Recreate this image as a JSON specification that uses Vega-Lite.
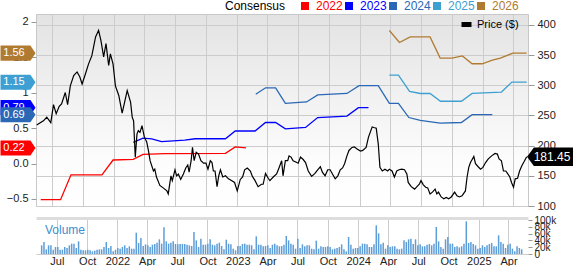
{
"$schema": "https://vega.github.io/schema/vega-lite/v6.json",
"padding": 0,
"background": "white",
"config": {
 "font": "Liberation Sans",
 "axis": {"labelFont": "Liberation Sans", "labelFontSize": 11, "labelColor": "#222222", "tickColor": "#999999", "gridColor": "#cccccc", "domainColor": "#c8c8c8", "title": null, "labelOverlap": false},
 "legend": {"labelFont": "Liberation Sans", "titleFont": "Liberation Sans"}
},
"datasets": {
 "eps": [
  {"d":"2021-05-28","yr":"2022","e":-0.51},{"d":"2021-07-26","yr":"2022","e":-0.51},{"d":"2021-08-26","yr":"2022","e":-0.16},{"d":"2021-11-26","yr":"2022","e":-0.16},{"d":"2021-12-29","yr":"2022","e":0.05},{"d":"2022-02-27","yr":"2022","e":0.06},{"d":"2022-03-28","yr":"2022","e":0.13},{"d":"2022-06-01","yr":"2022","e":0.14},{"d":"2022-11-28","yr":"2022","e":0.145},{"d":"2022-12-27","yr":"2022","e":0.235},{"d":"2023-01-28","yr":"2022","e":0.22},
  {"d":"2022-02-27","yr":"2023","e":0.30},{"d":"2022-03-28","yr":"2023","e":0.36},{"d":"2022-04-23","yr":"2023","e":0.35},{"d":"2022-05-22","yr":"2023","e":0.31},{"d":"2022-07-30","yr":"2023","e":0.33},{"d":"2022-08-30","yr":"2023","e":0.35},{"d":"2022-11-28","yr":"2023","e":0.35},{"d":"2022-12-27","yr":"2023","e":0.46},{"d":"2023-02-24","yr":"2023","e":0.46},{"d":"2023-03-27","yr":"2023","e":0.58},{"d":"2023-04-26","yr":"2023","e":0.58},{"d":"2023-05-25","yr":"2023","e":0.49},{"d":"2023-07-24","yr":"2023","e":0.51},{"d":"2023-08-29","yr":"2023","e":0.65},{"d":"2023-11-24","yr":"2023","e":0.67},{"d":"2023-12-28","yr":"2023","e":0.79},{"d":"2024-01-27","yr":"2023","e":0.79},
  {"d":"2023-02-26","yr":"2024","e":0.98},{"d":"2023-03-27","yr":"2024","e":1.07},{"d":"2023-04-26","yr":"2024","e":1.07},{"d":"2023-05-25","yr":"2024","e":0.85},{"d":"2023-07-27","yr":"2024","e":0.87},{"d":"2023-08-29","yr":"2024","e":0.97},{"d":"2023-11-24","yr":"2024","e":0.99},{"d":"2023-12-30","yr":"2024","e":1.10},{"d":"2024-02-25","yr":"2024","e":1.10},{"d":"2024-03-29","yr":"2024","e":0.85},{"d":"2024-04-25","yr":"2024","e":0.85},{"d":"2024-05-26","yr":"2024","e":0.65},{"d":"2024-06-29","yr":"2024","e":0.61},{"d":"2024-08-27","yr":"2024","e":0.57},{"d":"2024-10-29","yr":"2024","e":0.58},{"d":"2024-11-30","yr":"2024","e":0.69},{"d":"2025-01-29","yr":"2024","e":0.69},
  {"d":"2024-03-29","yr":"2025","e":1.25},{"d":"2024-04-25","yr":"2025","e":1.25},{"d":"2024-05-28","yr":"2025","e":1.02},{"d":"2024-06-29","yr":"2025","e":0.99},{"d":"2024-07-28","yr":"2025","e":0.99},{"d":"2024-08-28","yr":"2025","e":0.88},{"d":"2024-10-29","yr":"2025","e":0.88},{"d":"2024-11-30","yr":"2025","e":0.99},{"d":"2025-02-25","yr":"2025","e":1.01},{"d":"2025-03-28","yr":"2025","e":1.15},{"d":"2025-05-11","yr":"2025","e":1.15},
  {"d":"2024-03-29","yr":"2026","e":1.88},{"d":"2024-04-28","yr":"2026","e":1.71},{"d":"2024-05-30","yr":"2026","e":1.79},{"d":"2024-07-28","yr":"2026","e":1.79},{"d":"2024-08-27","yr":"2026","e":1.49},{"d":"2024-10-01","yr":"2026","e":1.49},{"d":"2024-11-01","yr":"2026","e":1.52},{"d":"2024-11-30","yr":"2026","e":1.41},{"d":"2024-12-30","yr":"2026","e":1.41},{"d":"2025-01-29","yr":"2026","e":1.46},{"d":"2025-02-22","yr":"2026","e":1.49},{"d":"2025-03-31","yr":"2026","e":1.56},{"d":"2025-05-11","yr":"2026","e":1.56}
 ],
 "tags": [
  {"yr":"2026","e":1.56},{"yr":"2025","e":1.15},{"yr":"2023","e":0.79},{"yr":"2024","e":0.69},{"yr":"2022","e":0.22}
 ],
 "last": [{"p":181.45}],
 "price": [
  {"d":"2021-05-16","p":234},{"d":"2021-06-05","p":241},{"d":"2021-06-15","p":247},{"d":"2021-06-27","p":238},{"d":"2021-07-05","p":268},{"d":"2021-07-13","p":253},{"d":"2021-07-22","p":265},{"d":"2021-07-29","p":269},{"d":"2021-08-09","p":288},{"d":"2021-08-16","p":268},{"d":"2021-08-24","p":299},{"d":"2021-09-03","p":316},{"d":"2021-09-13","p":322},{"d":"2021-09-21","p":314},{"d":"2021-09-28","p":302},{"d":"2021-10-08","p":319},{"d":"2021-10-17","p":335},{"d":"2021-10-27","p":349},{"d":"2021-11-07","p":380},{"d":"2021-11-16","p":391},{"d":"2021-11-23","p":374},{"d":"2021-12-01","p":347},{"d":"2021-12-08","p":369},{"d":"2021-12-16","p":333},{"d":"2021-12-21","p":352},{"d":"2021-12-29","p":335},
  {"d":"2022-01-05","p":299},{"d":"2022-01-15","p":283},{"d":"2022-01-25","p":254},{"d":"2022-02-09","p":291},{"d":"2022-02-19","p":272},{"d":"2022-02-24","p":247},{"d":"2022-02-28","p":241},{"d":"2022-03-05","p":181},{"d":"2022-03-10","p":219},{"d":"2022-03-14","p":225},{"d":"2022-03-19","p":222},{"d":"2022-03-25","p":233},{"d":"2022-04-01","p":214},{"d":"2022-04-08","p":206},{"d":"2022-04-13","p":192},{"d":"2022-04-18","p":175},{"d":"2022-04-28","p":158},{"d":"2022-05-02","p":161},{"d":"2022-05-07","p":148},{"d":"2022-05-17","p":134},{"d":"2022-05-27","p":130},{"d":"2022-06-07","p":125},{"d":"2022-06-11","p":120},{"d":"2022-06-19","p":150},{"d":"2022-06-23","p":142},{"d":"2022-07-01","p":160},{"d":"2022-07-06","p":150},{"d":"2022-07-11","p":153},{"d":"2022-07-18","p":144},{"d":"2022-07-26","p":153},{"d":"2022-08-02","p":163},{"d":"2022-08-08","p":168},{"d":"2022-08-12","p":156},{"d":"2022-08-18","p":175},{"d":"2022-08-22","p":197},{"d":"2022-08-27","p":175},{"d":"2022-09-02","p":189},{"d":"2022-09-09","p":186},{"d":"2022-09-16","p":175},{"d":"2022-09-24","p":171},{"d":"2022-10-01","p":171},{"d":"2022-10-07","p":161},{"d":"2022-10-14","p":175},{"d":"2022-10-19","p":172},{"d":"2022-10-23","p":158},{"d":"2022-10-28","p":158},{"d":"2022-11-03","p":132},{"d":"2022-11-08","p":150},{"d":"2022-11-13","p":160},{"d":"2022-11-20","p":148},{"d":"2022-11-28","p":150},{"d":"2022-12-07","p":145},{"d":"2022-12-17","p":142},{"d":"2022-12-25","p":139},
  {"d":"2023-01-02","p":125},{"d":"2023-01-11","p":144},{"d":"2023-01-18","p":148},{"d":"2023-01-24","p":160},{"d":"2023-02-01","p":163},{"d":"2023-02-10","p":158},{"d":"2023-02-16","p":149},{"d":"2023-02-24","p":142},{"d":"2023-03-05","p":132},{"d":"2023-03-15","p":136},{"d":"2023-03-20","p":136},{"d":"2023-03-27","p":154},{"d":"2023-04-04","p":146},{"d":"2023-04-09","p":142},{"d":"2023-04-19","p":148},{"d":"2023-04-29","p":153},{"d":"2023-05-06","p":163},{"d":"2023-05-14","p":175},{"d":"2023-05-18","p":150},{"d":"2023-05-25","p":175},{"d":"2023-06-01","p":175},{"d":"2023-06-05","p":183},{"d":"2023-06-11","p":181},{"d":"2023-06-17","p":175},{"d":"2023-06-28","p":172},{"d":"2023-07-02","p":171},{"d":"2023-07-09","p":181},{"d":"2023-07-17","p":177},{"d":"2023-07-24","p":172},{"d":"2023-08-01","p":158},{"d":"2023-08-11","p":149},{"d":"2023-08-21","p":154},{"d":"2023-08-29","p":160},{"d":"2023-09-06","p":165},{"d":"2023-09-12","p":156},{"d":"2023-09-20","p":150},{"d":"2023-09-28","p":160},{"d":"2023-10-05","p":160},{"d":"2023-10-12","p":153},{"d":"2023-10-20","p":145},{"d":"2023-10-28","p":150},{"d":"2023-11-04","p":160},{"d":"2023-11-11","p":163},{"d":"2023-11-17","p":170},{"d":"2023-11-24","p":183},{"d":"2023-11-30","p":192},{"d":"2023-12-09","p":197},{"d":"2023-12-16","p":198},{"d":"2023-12-23","p":195},
  {"d":"2024-01-03","p":191},{"d":"2024-01-10","p":192},{"d":"2024-01-20","p":197},{"d":"2024-01-27","p":214},{"d":"2024-02-07","p":231},{"d":"2024-02-12","p":230},{"d":"2024-02-19","p":229},{"d":"2024-02-25","p":203},{"d":"2024-03-01","p":164},{"d":"2024-03-08","p":158},{"d":"2024-03-16","p":161},{"d":"2024-03-24","p":158},{"d":"2024-03-29","p":161},{"d":"2024-04-06","p":158},{"d":"2024-04-13","p":148},{"d":"2024-04-20","p":158},{"d":"2024-04-27","p":160},{"d":"2024-05-05","p":161},{"d":"2024-05-13","p":160},{"d":"2024-05-20","p":153},{"d":"2024-05-24","p":139},{"d":"2024-06-02","p":132},{"d":"2024-06-12","p":128},{"d":"2024-06-19","p":132},{"d":"2024-06-26","p":136},{"d":"2024-07-01","p":142},{"d":"2024-07-08","p":135},{"d":"2024-07-15","p":131},{"d":"2024-07-21","p":130},{"d":"2024-07-28","p":120},{"d":"2024-08-04","p":123},{"d":"2024-08-12","p":128},{"d":"2024-08-17","p":120},{"d":"2024-08-22","p":123},{"d":"2024-08-30","p":115},{"d":"2024-09-07","p":112},{"d":"2024-09-14","p":114},{"d":"2024-09-21","p":112},{"d":"2024-09-29","p":115},{"d":"2024-10-09","p":123},{"d":"2024-10-16","p":117},{"d":"2024-10-23","p":115},{"d":"2024-10-31","p":117},{"d":"2024-11-10","p":125},{"d":"2024-11-15","p":148},{"d":"2024-11-20","p":164},{"d":"2024-11-25","p":172},{"d":"2024-11-28","p":175},{"d":"2024-12-05","p":182},{"d":"2024-12-10","p":170},{"d":"2024-12-18","p":165},{"d":"2024-12-25","p":161},
  {"d":"2025-01-01","p":164},{"d":"2025-01-09","p":172},{"d":"2025-01-17","p":178},{"d":"2025-01-27","p":183},{"d":"2025-02-06","p":187},{"d":"2025-02-13","p":186},{"d":"2025-02-18","p":178},{"d":"2025-02-25","p":175},{"d":"2025-03-03","p":158},{"d":"2025-03-10","p":158},{"d":"2025-03-15","p":154},{"d":"2025-03-22","p":148},{"d":"2025-03-27","p":139},{"d":"2025-04-02","p":131},{"d":"2025-04-07","p":145},{"d":"2025-04-14","p":146},{"d":"2025-04-20","p":158},{"d":"2025-04-27","p":167},{"d":"2025-05-04","p":174},{"d":"2025-05-11","p":181.45}
 ],
 "vol": [
  {"d":"2021-05-16","v":25500},{"d":"2021-05-23","v":35300},{"d":"2021-05-30","v":13700},{"d":"2021-06-06","v":25500},{"d":"2021-06-13","v":25500},{"d":"2021-06-20","v":12800},{"d":"2021-06-27","v":20600},{"d":"2021-07-04","v":20600},{"d":"2021-07-11","v":12800},{"d":"2021-07-18","v":12800},{"d":"2021-07-25","v":20600},{"d":"2021-08-01","v":17700},{"d":"2021-08-08","v":25500},{"d":"2021-08-15","v":30400},{"d":"2021-08-22","v":30400},{"d":"2021-08-29","v":17700},{"d":"2021-09-05","v":37300},{"d":"2021-09-12","v":12800},{"d":"2021-09-19","v":10800},{"d":"2021-09-26","v":10800},{"d":"2021-10-03","v":12800},{"d":"2021-10-10","v":10800},{"d":"2021-10-17","v":7800},{"d":"2021-10-24","v":9800},{"d":"2021-10-31","v":12800},{"d":"2021-11-07","v":13700},{"d":"2021-11-14","v":13700},{"d":"2021-11-21","v":20600},{"d":"2021-11-28","v":35300},{"d":"2021-12-05","v":17700},{"d":"2021-12-12","v":23500},{"d":"2021-12-19","v":7800},{"d":"2021-12-26","v":12800},
  {"d":"2022-01-02","v":17700},{"d":"2022-01-09","v":15700},{"d":"2022-01-16","v":20600},{"d":"2022-01-23","v":25500},{"d":"2022-01-30","v":17700},{"d":"2022-02-06","v":22600},{"d":"2022-02-13","v":15700},{"d":"2022-02-20","v":15700},{"d":"2022-02-27","v":62800},{"d":"2022-03-06","v":32400},{"d":"2022-03-13","v":47100},{"d":"2022-03-20","v":23500},{"d":"2022-03-27","v":28400},{"d":"2022-04-03","v":25500},{"d":"2022-04-10","v":20600},{"d":"2022-04-17","v":27500},{"d":"2022-04-24","v":29400},{"d":"2022-05-01","v":33400},{"d":"2022-05-08","v":43200},{"d":"2022-05-15","v":30400},{"d":"2022-05-22","v":78500},{"d":"2022-05-29","v":37300},{"d":"2022-06-05","v":30400},{"d":"2022-06-12","v":33400},{"d":"2022-06-19","v":37300},{"d":"2022-06-26","v":29400},{"d":"2022-07-03","v":28400},{"d":"2022-07-10","v":29400},{"d":"2022-07-17","v":29400},{"d":"2022-07-24","v":29400},{"d":"2022-07-31","v":27500},{"d":"2022-08-07","v":25500},{"d":"2022-08-14","v":23500},{"d":"2022-08-21","v":64700},{"d":"2022-08-28","v":40200},{"d":"2022-09-04","v":20600},{"d":"2022-09-11","v":45100},{"d":"2022-09-18","v":27500},{"d":"2022-09-25","v":27500},{"d":"2022-10-02","v":30400},{"d":"2022-10-09","v":43200},{"d":"2022-10-16","v":27500},{"d":"2022-10-23","v":25500},{"d":"2022-10-30","v":30400},{"d":"2022-11-06","v":33400},{"d":"2022-11-13","v":23500},{"d":"2022-11-20","v":13700},{"d":"2022-11-27","v":42200},{"d":"2022-12-04","v":30400},{"d":"2022-12-11","v":28400},{"d":"2022-12-18","v":15700},{"d":"2022-12-25","v":10800},
  {"d":"2023-01-01","v":23500},{"d":"2023-01-08","v":23500},{"d":"2023-01-15","v":29400},{"d":"2023-01-22","v":30400},{"d":"2023-01-29","v":27500},{"d":"2023-02-05","v":27500},{"d":"2023-02-12","v":25500},{"d":"2023-02-19","v":13700},{"d":"2023-02-26","v":52000},{"d":"2023-03-05","v":27500},{"d":"2023-03-12","v":27500},{"d":"2023-03-19","v":22600},{"d":"2023-03-26","v":23500},{"d":"2023-04-02","v":25500},{"d":"2023-04-09","v":17700},{"d":"2023-04-16","v":27500},{"d":"2023-04-23","v":30400},{"d":"2023-04-30","v":25500},{"d":"2023-05-07","v":22600},{"d":"2023-05-14","v":23500},{"d":"2023-05-21","v":27500},{"d":"2023-05-28","v":53000},{"d":"2023-06-04","v":40200},{"d":"2023-06-11","v":30400},{"d":"2023-06-18","v":27500},{"d":"2023-06-25","v":15700},{"d":"2023-07-02","v":45100},{"d":"2023-07-09","v":17700},{"d":"2023-07-16","v":28400},{"d":"2023-07-23","v":22600},{"d":"2023-07-30","v":25500},{"d":"2023-08-06","v":25500},{"d":"2023-08-13","v":15700},{"d":"2023-08-20","v":13700},{"d":"2023-08-27","v":39200},{"d":"2023-09-03","v":15700},{"d":"2023-09-10","v":22600},{"d":"2023-09-17","v":20600},{"d":"2023-09-24","v":20600},{"d":"2023-10-01","v":22600},{"d":"2023-10-08","v":20600},{"d":"2023-10-15","v":13700},{"d":"2023-10-22","v":15700},{"d":"2023-10-29","v":17700},{"d":"2023-11-05","v":20600},{"d":"2023-11-12","v":28400},{"d":"2023-11-19","v":13700},{"d":"2023-11-26","v":7800},{"d":"2023-12-03","v":50000},{"d":"2023-12-10","v":27500},{"d":"2023-12-17","v":15700},{"d":"2023-12-24","v":17700},{"d":"2023-12-31","v":17700},
  {"d":"2024-01-07","v":22600},{"d":"2024-01-14","v":30400},{"d":"2024-01-21","v":30400},{"d":"2024-01-28","v":28400},{"d":"2024-02-04","v":20600},{"d":"2024-02-11","v":20600},{"d":"2024-02-18","v":28400},{"d":"2024-02-25","v":84400},{"d":"2024-03-03","v":60800},{"d":"2024-03-10","v":28400},{"d":"2024-03-17","v":33400},{"d":"2024-03-24","v":15700},{"d":"2024-03-31","v":25500},{"d":"2024-04-07","v":20600},{"d":"2024-04-14","v":22600},{"d":"2024-04-21","v":22600},{"d":"2024-04-28","v":15700},{"d":"2024-05-05","v":13700},{"d":"2024-05-12","v":15700},{"d":"2024-05-19","v":40200},{"d":"2024-05-26","v":35300},{"d":"2024-06-02","v":43200},{"d":"2024-06-09","v":45100},{"d":"2024-06-16","v":29400},{"d":"2024-06-23","v":43200},{"d":"2024-06-30","v":25500},{"d":"2024-07-07","v":28400},{"d":"2024-07-14","v":22600},{"d":"2024-07-21","v":22600},{"d":"2024-07-28","v":27500},{"d":"2024-08-04","v":29400},{"d":"2024-08-11","v":25500},{"d":"2024-08-18","v":30400},{"d":"2024-08-25","v":79500},{"d":"2024-09-01","v":37300},{"d":"2024-09-08","v":20600},{"d":"2024-09-15","v":15700},{"d":"2024-09-22","v":43200},{"d":"2024-09-29","v":50000},{"d":"2024-10-06","v":30400},{"d":"2024-10-13","v":30400},{"d":"2024-10-20","v":20600},{"d":"2024-10-27","v":22600},{"d":"2024-11-03","v":19600},{"d":"2024-11-10","v":22600},{"d":"2024-11-17","v":30400},{"d":"2024-11-24","v":96100},{"d":"2024-12-01","v":32400},{"d":"2024-12-08","v":35300},{"d":"2024-12-15","v":29400},{"d":"2024-12-22","v":25500},{"d":"2024-12-29","v":15700},
  {"d":"2025-01-05","v":17700},{"d":"2025-01-12","v":25500},{"d":"2025-01-19","v":20600},{"d":"2025-01-26","v":25500},{"d":"2025-02-02","v":29400},{"d":"2025-02-09","v":32400},{"d":"2025-02-16","v":22600},{"d":"2025-02-23","v":22600},{"d":"2025-03-02","v":54900},{"d":"2025-03-09","v":35300},{"d":"2025-03-16","v":30400},{"d":"2025-03-23","v":17700},{"d":"2025-03-30","v":27500},{"d":"2025-04-06","v":30400},{"d":"2025-04-13","v":15700},{"d":"2025-04-20","v":7800},{"d":"2025-04-27","v":22600},{"d":"2025-05-04","v":17700},{"d":"2025-05-11","v":13700}
 ]
},
"bounds": "flush",
"spacing": 12,
"vconcat": [
 {
  "width": 492,
  "height": 192,
  "view": {"fill": {"gradient": "linear", "x1": 0, "y1": 0, "x2": 0, "y2": 1, "stops": [{"offset": 0, "color": "#e3e3e3"}, {"offset": 0.75, "color": "#fcfcfc"}, {"offset": 1, "color": "#ffffff"}]}, "stroke": "#c8c8c8"},
  "encoding": {
   "x": {"field": "d", "type": "temporal",
    "scale": {"type": "utc", "domain": [{"year":2021,"month":5,"date":14,"utc":true},{"year":2025,"month":5,"date":15,"utc":true}]},
    "axis": {"values": [{"year":2021,"month":7,"date":1,"utc":true},{"year":2021,"month":10,"date":1,"utc":true},{"year":2022,"month":1,"date":1,"utc":true},{"year":2022,"month":4,"date":1,"utc":true},{"year":2022,"month":7,"date":1,"utc":true},{"year":2022,"month":10,"date":1,"utc":true},{"year":2023,"month":1,"date":1,"utc":true},{"year":2023,"month":4,"date":1,"utc":true},{"year":2023,"month":7,"date":1,"utc":true},{"year":2023,"month":10,"date":1,"utc":true},{"year":2024,"month":1,"date":1,"utc":true},{"year":2024,"month":4,"date":1,"utc":true},{"year":2024,"month":7,"date":1,"utc":true},{"year":2024,"month":10,"date":1,"utc":true},{"year":2025,"month":1,"date":1,"utc":true},{"year":2025,"month":4,"date":1,"utc":true}],
     "tickCount": 40, "labels": false, "ticks": false, "domain": false, "grid": true, "gridColor": "#cccccc"}}
  },
  "layer": [
   {
    "layer": [
     {
      "data": {"name": "eps"},
      "mark": {"type": "line", "strokeWidth": 1.3},
      "encoding": {
       "y": {"field": "e", "type": "quantitative", "scale": {"domain": [-0.6, 2.113], "nice": false, "zero": false},
        "axis": {"orient": "left", "values": [2, 1.5, 1, 0.5, 0, -0.5], "tickCount": 20, "labelExpr": "datum.value == 2 ? '2' : datum.value == 1 ? '1' : format(datum.value, '.1f')", "grid": false, "domain": false, "tickSize": 5, "labelPadding": 3, "labelOverlap": false, "zindex": 0}},
       "color": {"field": "yr", "type": "nominal",
        "scale": {"domain": ["2022", "2023", "2024", "2025", "2026"], "range": ["#ff0000", "#0000ff", "#2a68b6", "#3ea0d2", "#b07b30"]},
        "legend": {"orient": "none", "legendX": 189, "legendY": -14, "direction": "horizontal", "title": "Consensus", "titleOrient": "left", "titleFontSize": 12, "titleFontWeight": "normal", "titleColor": "#000000", "titlePadding": 13, "symbolType": "square", "symbolSize": 64, "symbolStrokeWidth": 0, "labelFontSize": 12, "labelOffset": 5, "columnPadding": -10,
         "encode": {
          "labels": {"update": {"fill": {"signal": "datum.value == '2022' ? '#ff0000' : datum.value == '2023' ? '#0000ff' : datum.value == '2024' ? '#2a68b6' : datum.value == '2025' ? '#3ea0d2' : '#b07b30'"}}},
          "symbols": {"update": {"fill": {"signal": "datum.value == '2022' ? '#ff0000' : datum.value == '2023' ? '#0000ff' : datum.value == '2024' ? '#2a68b6' : datum.value == '2025' ? '#3ea0d2' : '#b07b30'"}, "strokeWidth": {"value": 0}}}
         }}}
      }
     },
     {
      "data": {"name": "tags"},
      "transform": [{"filter": "datum.yr == '2023'"}],
      "layer": [
       {"mark": {"type": "point", "shape": "M-1,-0.43L0.71,-0.43L1,0L0.71,0.43L-1,0.43Z", "size": 1225, "filled": true, "opacity": 1, "strokeWidth": 0},
        "encoding": {"x": {"value": -18}, "y": {"field": "e", "type": "quantitative"}, "color": {"field": "yr", "type": "nominal"}}},
       {"mark": {"type": "text", "color": "#ffffff", "fontSize": 11, "align": "center", "baseline": "middle"},
        "encoding": {"x": {"value": -22}, "y": {"field": "e", "type": "quantitative"}, "text": {"field": "e", "type": "quantitative", "format": ".2f"}}}
      ]
     },
     {
      "data": {"name": "tags"},
      "transform": [{"filter": "datum.yr != '2023'"}],
      "layer": [
       {"mark": {"type": "point", "shape": "M-1,-0.43L0.71,-0.43L1,0L0.71,0.43L-1,0.43Z", "size": 1225, "filled": true, "opacity": 1, "strokeWidth": 0},
        "encoding": {"x": {"value": -18}, "y": {"field": "e", "type": "quantitative"}, "color": {"field": "yr", "type": "nominal"}}},
       {"mark": {"type": "text", "color": "#ffffff", "fontSize": 11, "align": "center", "baseline": "middle"},
        "encoding": {"x": {"value": -22}, "y": {"field": "e", "type": "quantitative"}, "text": {"field": "e", "type": "quantitative", "format": ".2f"}}}
      ]
     }
    ]
   },
   {
    "layer": [
     {
      "data": {"name": "price"},
      "mark": {"type": "line", "strokeWidth": 1.2},
      "encoding": {
       "y": {"field": "p", "type": "quantitative", "scale": {"domain": [100, 418], "nice": false, "zero": false},
        "axis": {"orient": "right", "values": [100, 150, 200, 250, 300, 350, 400], "tickCount": 20, "grid": true, "gridColor": "#cccccc", "domain": false, "tickSize": 6, "labelPadding": 3, "labelOverlap": false, "zindex": 0}},
       "stroke": {"datum": "Price ($)", "type": "nominal", "scale": {"range": ["#000000"]},
        "legend": {"orient": "none", "legendX": 425, "legendY": 5, "title": null, "symbolType": "M-1,-0.5L1,-0.5L1,0.5L-1,0.5Z", "symbolSize": 100, "labelFontSize": 11, "labelColor": "#000000", "labelOffset": 5,
         "encode": {"symbols": {"update": {"fill": {"value": "#000000"}, "stroke": {"value": "#000000"}, "strokeWidth": {"value": 0}}}}}}
      }
     },
     {
      "data": {"name": "last"},
      "layer": [
       {"mark": {"type": "point", "shape": "M-1,0L-0.7,-0.4L1,-0.4L1,0.4L-0.7,0.4Z", "size": 2116, "filled": true, "opacity": 1, "color": "#000000", "strokeWidth": 0},
        "encoding": {"x": {"value": 514}, "y": {"field": "p", "type": "quantitative"}}},
       {"mark": {"type": "text", "color": "#ffffff", "fontSize": 12, "align": "center", "baseline": "middle"},
        "encoding": {"x": {"value": 516}, "y": {"field": "p", "type": "quantitative"}, "text": {"field": "p", "type": "quantitative", "format": ".2f"}}}
      ]
     }
    ]
   }
  ],
  "resolve": {"scale": {"y": "independent"}}
 },
 {
  "width": 492,
  "height": 36,
  "data": {"name": "vol"},
  "title": {"text": "Volume", "anchor": "start", "offset": -24, "dx": 9, "color": "#3d8fd1", "fontSize": 12, "fontWeight": "normal", "font": "Liberation Sans"},
  "view": {"stroke": null},
  "mark": {"type": "bar", "width": 1.5, "color": "#5e9ed8"},
  "encoding": {
   "x": {"field": "d", "type": "temporal",
    "scale": {"type": "utc", "domain": [{"year":2021,"month":5,"date":14,"utc":true},{"year":2025,"month":5,"date":15,"utc":true}]},
    "axis": {"values": [{"year":2021,"month":7,"date":1,"utc":true},{"year":2021,"month":10,"date":1,"utc":true},{"year":2022,"month":1,"date":1,"utc":true},{"year":2022,"month":4,"date":1,"utc":true},{"year":2022,"month":7,"date":1,"utc":true},{"year":2022,"month":10,"date":1,"utc":true},{"year":2023,"month":1,"date":1,"utc":true},{"year":2023,"month":4,"date":1,"utc":true},{"year":2023,"month":7,"date":1,"utc":true},{"year":2023,"month":10,"date":1,"utc":true},{"year":2024,"month":1,"date":1,"utc":true},{"year":2024,"month":4,"date":1,"utc":true},{"year":2024,"month":7,"date":1,"utc":true},{"year":2024,"month":10,"date":1,"utc":true},{"year":2025,"month":1,"date":1,"utc":true},{"year":2025,"month":4,"date":1,"utc":true}],
     "tickCount": 40,
     "labelExpr": "utcFormat(datum.value, utcmonth(datum.value) == 0 ? '%Y' : '%b')",
     "grid": true, "gridColor": "#cccccc", "ticks": false, "domain": true, "domainColor": "#cccccc", "labelPadding": 1, "labelOverlap": false, "labelFlush": false}},
   "y": {"field": "v", "type": "quantitative", "scale": {"domain": [0, 106000], "nice": false},
    "axis": {"orient": "right", "values": [0, 20000, 40000, 60000, 80000, 100000, 106000], "tickCount": 20,
     "labelExpr": "datum.value > 105000 ? '' : datum.value == 0 ? '0' : format(datum.value, '~s')",
     "labelFontSize": 10, "labelOverlap": false, "labelPadding": 2, "domain": false,
     "grid": true,
     "gridColor": {"condition": {"test": "datum.value > 105000", "value": "#dddddd"}, "value": "transparent"},
     "gridWidth": {"condition": {"test": "datum.value > 105000", "value": 3}, "value": 0},
     "tickSize": 4,
     "tickColor": {"condition": {"test": "datum.value > 105000", "value": "transparent"}, "value": "#999999"}}}
  }
 }
]
}
